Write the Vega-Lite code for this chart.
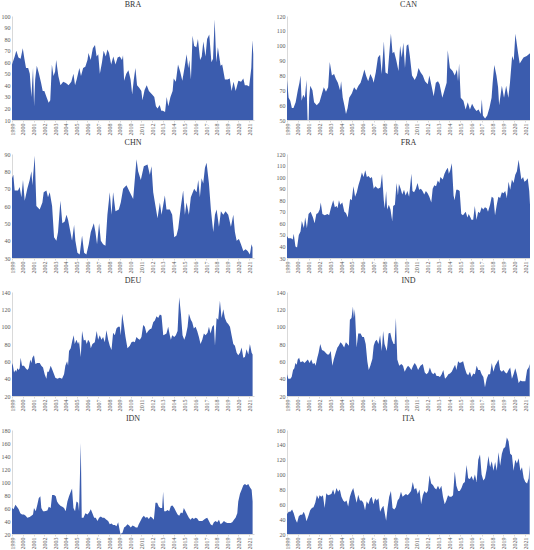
{
  "$schema": "https://vega.github.io/schema/vega-lite/v6.json",
  "background": "white",
  "padding": {"left": 1, "top": 1, "right": 0, "bottom": 0},
  "config": {
    "view": {"stroke": null},
    "title": {"font": "Liberation Serif", "fontSize": 8, "fontWeight": "normal", "color": "#333333", "offset": 4},
    "axis": {"labelFont": "Liberation Serif", "labelFontSize": 6, "labelColor": "#595959", "domainColor": "#d9d9d9", "grid": false, "title": null},
    "axisY": {"ticks": false, "labelPadding": 2},
    "axisX": {"ticks": true, "tickSize": 2, "tickColor": "#d9d9d9", "labelAngle": -90, "labelPadding": 1, "format": "d", "labelOverlap": false}
  },
  "datasets": {
    "BRA": [{"t":1999.0,"v":58},{"t":1999.25,"v":65},{"t":1999.4,"v":70},{"t":1999.6,"v":64},{"t":1999.8,"v":63},{"t":2000.0,"v":72},{"t":2000.15,"v":63},{"t":2000.3,"v":55},{"t":2000.5,"v":55},{"t":2000.65,"v":50},{"t":2000.8,"v":30},{"t":2000.95,"v":55},{"t":2001.05,"v":22},{"t":2001.15,"v":45},{"t":2001.3,"v":57},{"t":2001.5,"v":50},{"t":2001.7,"v":42},{"t":2001.85,"v":35},{"t":2002.0,"v":35},{"t":2002.2,"v":30},{"t":2002.4,"v":25},{"t":2002.55,"v":27},{"t":2002.7,"v":58},{"t":2002.85,"v":48},{"t":2003.0,"v":52},{"t":2003.1,"v":62},{"t":2003.3,"v":48},{"t":2003.5,"v":40},{"t":2003.75,"v":43},{"t":2004.0,"v":42},{"t":2004.25,"v":40},{"t":2004.5,"v":43},{"t":2004.7,"v":50},{"t":2004.85,"v":40},{"t":2005.0,"v":45},{"t":2005.25,"v":55},{"t":2005.4,"v":48},{"t":2005.6,"v":55},{"t":2005.8,"v":56},{"t":2006.0,"v":62},{"t":2006.1,"v":68},{"t":2006.3,"v":62},{"t":2006.5,"v":72},{"t":2006.7,"v":75},{"t":2006.85,"v":65},{"t":2007.0,"v":67},{"t":2007.15,"v":50},{"t":2007.35,"v":60},{"t":2007.5,"v":70},{"t":2007.7,"v":65},{"t":2007.85,"v":71},{"t":2008.0,"v":68},{"t":2008.2,"v":58},{"t":2008.4,"v":65},{"t":2008.6,"v":58},{"t":2008.8,"v":64},{"t":2009.0,"v":65},{"t":2009.2,"v":62},{"t":2009.3,"v":66},{"t":2009.4,"v":44},{"t":2009.6,"v":50},{"t":2009.8,"v":53},{"t":2010.0,"v":45},{"t":2010.15,"v":32},{"t":2010.3,"v":45},{"t":2010.45,"v":55},{"t":2010.6,"v":40},{"t":2010.8,"v":38},{"t":2011.0,"v":35},{"t":2011.1,"v":27},{"t":2011.3,"v":36},{"t":2011.5,"v":40},{"t":2011.7,"v":35},{"t":2012.0,"v":32},{"t":2012.2,"v":30},{"t":2012.35,"v":22},{"t":2012.5,"v":20},{"t":2012.7,"v":23},{"t":2012.85,"v":18},{"t":2013.0,"v":18},{"t":2013.2,"v":17},{"t":2013.35,"v":30},{"t":2013.5,"v":22},{"t":2013.7,"v":30},{"t":2013.9,"v":35},{"t":2014.0,"v":46},{"t":2014.2,"v":43},{"t":2014.4,"v":58},{"t":2014.6,"v":52},{"t":2014.8,"v":44},{"t":2015.0,"v":55},{"t":2015.2,"v":67},{"t":2015.35,"v":55},{"t":2015.45,"v":62},{"t":2015.6,"v":45},{"t":2015.75,"v":83},{"t":2015.9,"v":74},{"t":2016.1,"v":73},{"t":2016.25,"v":80},{"t":2016.45,"v":62},{"t":2016.6,"v":65},{"t":2016.75,"v":78},{"t":2016.95,"v":65},{"t":2017.1,"v":80},{"t":2017.3,"v":84},{"t":2017.5,"v":60},{"t":2017.65,"v":63},{"t":2017.8,"v":97},{"t":2017.95,"v":60},{"t":2018.1,"v":73},{"t":2018.35,"v":57},{"t":2018.5,"v":58},{"t":2018.75,"v":45},{"t":2019.0,"v":45},{"t":2019.2,"v":46},{"t":2019.37,"v":35},{"t":2019.55,"v":43},{"t":2019.75,"v":35},{"t":2020.0,"v":44},{"t":2020.25,"v":43},{"t":2020.46,"v":46},{"t":2020.6,"v":40},{"t":2020.8,"v":40},{"t":2021.0,"v":39},{"t":2021.2,"v":55},{"t":2021.3,"v":79},{"t":2021.38,"v":67}],
    "CAN": [{"t":1999.0,"v":77},{"t":1999.15,"v":65},{"t":1999.3,"v":63},{"t":1999.45,"v":58},{"t":1999.6,"v":58},{"t":1999.8,"v":62},{"t":2000.0,"v":70},{"t":2000.15,"v":75},{"t":2000.25,"v":80},{"t":2000.35,"v":63},{"t":2000.5,"v":67},{"t":2000.65,"v":65},{"t":2000.8,"v":77},{"t":2000.9,"v":50},{"t":2001.0,"v":50},{"t":2001.05,"v":65},{"t":2001.15,"v":73},{"t":2001.35,"v":70},{"t":2001.5,"v":62},{"t":2001.75,"v":60},{"t":2002.0,"v":62},{"t":2002.2,"v":67},{"t":2002.4,"v":72},{"t":2002.6,"v":69},{"t":2002.8,"v":72},{"t":2002.95,"v":89},{"t":2003.15,"v":80},{"t":2003.35,"v":81},{"t":2003.5,"v":78},{"t":2003.7,"v":75},{"t":2003.9,"v":70},{"t":2004.0,"v":76},{"t":2004.15,"v":65},{"t":2004.3,"v":60},{"t":2004.45,"v":54},{"t":2004.6,"v":58},{"t":2004.75,"v":65},{"t":2005.0,"v":68},{"t":2005.2,"v":72},{"t":2005.4,"v":70},{"t":2005.6,"v":73},{"t":2005.8,"v":75},{"t":2006.0,"v":80},{"t":2006.15,"v":84},{"t":2006.3,"v":80},{"t":2006.5,"v":76},{"t":2006.7,"v":81},{"t":2006.9,"v":78},{"t":2007.0,"v":75},{"t":2007.2,"v":82},{"t":2007.4,"v":92},{"t":2007.6,"v":94},{"t":2007.75,"v":81},{"t":2007.95,"v":103},{"t":2008.1,"v":82},{"t":2008.3,"v":81},{"t":2008.45,"v":95},{"t":2008.6,"v":108},{"t":2008.75,"v":95},{"t":2008.9,"v":96},{"t":2009.1,"v":90},{"t":2009.3,"v":83},{"t":2009.45,"v":100},{"t":2009.6,"v":92},{"t":2009.75,"v":102},{"t":2009.9,"v":85},{"t":2010.05,"v":100},{"t":2010.2,"v":101},{"t":2010.35,"v":93},{"t":2010.55,"v":80},{"t":2010.8,"v":77},{"t":2011.0,"v":80},{"t":2011.15,"v":85},{"t":2011.35,"v":82},{"t":2011.55,"v":80},{"t":2011.75,"v":76},{"t":2012.0,"v":74},{"t":2012.15,"v":80},{"t":2012.35,"v":73},{"t":2012.55,"v":66},{"t":2012.75,"v":75},{"t":2012.95,"v":76},{"t":2013.1,"v":74},{"t":2013.35,"v":65},{"t":2013.55,"v":70},{"t":2013.75,"v":75},{"t":2013.85,"v":97},{"t":2014.05,"v":85},{"t":2014.3,"v":83},{"t":2014.5,"v":80},{"t":2014.7,"v":84},{"t":2014.8,"v":76},{"t":2014.9,"v":88},{"t":2015.05,"v":65},{"t":2015.3,"v":63},{"t":2015.5,"v":57},{"t":2015.7,"v":62},{"t":2015.9,"v":57},{"t":2016.1,"v":61},{"t":2016.3,"v":58},{"t":2016.5,"v":56},{"t":2016.7,"v":57},{"t":2016.9,"v":54},{"t":2017.0,"v":64},{"t":2017.1,"v":53},{"t":2017.3,"v":51},{"t":2017.5,"v":53},{"t":2017.7,"v":58},{"t":2017.9,"v":65},{"t":2018.0,"v":75},{"t":2018.15,"v":87},{"t":2018.35,"v":80},{"t":2018.5,"v":72},{"t":2018.6,"v":60},{"t":2018.85,"v":73},{"t":2019.05,"v":65},{"t":2019.25,"v":73},{"t":2019.45,"v":65},{"t":2019.6,"v":75},{"t":2019.8,"v":93},{"t":2019.95,"v":90},{"t":2020.1,"v":108},{"t":2020.35,"v":95},{"t":2020.5,"v":88},{"t":2020.85,"v":92},{"t":2021.15,"v":93},{"t":2021.45,"v":95}],
    "CHN": [{"t":1999.0,"v":76},{"t":1999.12,"v":78},{"t":1999.25,"v":69},{"t":1999.56,"v":69},{"t":1999.71,"v":71},{"t":1999.87,"v":65},{"t":2000.02,"v":75},{"t":2000.18,"v":63},{"t":2000.42,"v":70},{"t":2000.64,"v":75},{"t":2000.8,"v":80},{"t":2000.89,"v":72},{"t":2001.11,"v":89},{"t":2001.26,"v":60},{"t":2001.57,"v":58},{"t":2001.82,"v":62},{"t":2001.94,"v":68},{"t":2002.19,"v":69},{"t":2002.34,"v":65},{"t":2002.5,"v":68},{"t":2002.72,"v":60},{"t":2002.9,"v":42},{"t":2003.12,"v":40},{"t":2003.27,"v":45},{"t":2003.49,"v":63},{"t":2003.67,"v":50},{"t":2003.89,"v":51},{"t":2004.05,"v":55},{"t":2004.2,"v":52},{"t":2004.42,"v":45},{"t":2004.57,"v":40},{"t":2004.76,"v":49},{"t":2004.88,"v":40},{"t":2005.07,"v":33},{"t":2005.28,"v":32},{"t":2005.5,"v":43},{"t":2005.69,"v":33},{"t":2005.9,"v":32},{"t":2006.12,"v":38},{"t":2006.31,"v":45},{"t":2006.59,"v":50},{"t":2006.74,"v":45},{"t":2006.89,"v":38},{"t":2007.08,"v":50},{"t":2007.24,"v":40},{"t":2007.45,"v":38},{"t":2007.67,"v":37},{"t":2007.85,"v":55},{"t":2008.07,"v":68},{"t":2008.23,"v":55},{"t":2008.38,"v":68},{"t":2008.6,"v":57},{"t":2008.91,"v":58},{"t":2009.09,"v":62},{"t":2009.31,"v":70},{"t":2009.62,"v":72},{"t":2009.93,"v":68},{"t":2010.24,"v":64},{"t":2010.55,"v":87},{"t":2010.7,"v":80},{"t":2010.95,"v":75},{"t":2011.23,"v":83},{"t":2011.57,"v":84},{"t":2011.79,"v":78},{"t":2011.94,"v":83},{"t":2012.1,"v":68},{"t":2012.31,"v":60},{"t":2012.5,"v":53},{"t":2012.72,"v":62},{"t":2012.87,"v":55},{"t":2013.18,"v":66},{"t":2013.33,"v":58},{"t":2013.64,"v":58},{"t":2013.86,"v":55},{"t":2014.05,"v":42},{"t":2014.26,"v":43},{"t":2014.42,"v":47},{"t":2014.67,"v":60},{"t":2014.88,"v":69},{"t":2015.04,"v":55},{"t":2015.19,"v":62},{"t":2015.41,"v":55},{"t":2015.59,"v":65},{"t":2015.9,"v":70},{"t":2016.12,"v":68},{"t":2016.28,"v":75},{"t":2016.43,"v":65},{"t":2016.59,"v":76},{"t":2016.74,"v":73},{"t":2016.9,"v":82},{"t":2017.05,"v":85},{"t":2017.27,"v":73},{"t":2017.45,"v":58},{"t":2017.67,"v":45},{"t":2017.83,"v":55},{"t":2017.98,"v":58},{"t":2018.2,"v":48},{"t":2018.38,"v":57},{"t":2018.6,"v":55},{"t":2018.81,"v":57},{"t":2019.06,"v":55},{"t":2019.31,"v":48},{"t":2019.53,"v":55},{"t":2019.68,"v":45},{"t":2019.84,"v":40},{"t":2020.05,"v":41},{"t":2020.24,"v":38},{"t":2020.46,"v":34},{"t":2020.67,"v":35},{"t":2020.86,"v":34},{"t":2021.07,"v":32},{"t":2021.22,"v":38},{"t":2021.31,"v":36}],
    "FRA": [{"t":1999.0,"v":49},{"t":1999.12,"v":47},{"t":1999.37,"v":47},{"t":1999.53,"v":46},{"t":1999.62,"v":51},{"t":1999.78,"v":40},{"t":1999.93,"v":39},{"t":2000.09,"v":50},{"t":2000.25,"v":53},{"t":2000.37,"v":62},{"t":2000.56,"v":56},{"t":2000.68,"v":65},{"t":2000.84,"v":56},{"t":2000.99,"v":68},{"t":2001.18,"v":70},{"t":2001.4,"v":65},{"t":2001.55,"v":60},{"t":2001.71,"v":68},{"t":2001.87,"v":69},{"t":2002.02,"v":72},{"t":2002.12,"v":78},{"t":2002.27,"v":68},{"t":2002.49,"v":67},{"t":2002.74,"v":68},{"t":2002.89,"v":67},{"t":2003.05,"v":73},{"t":2003.27,"v":80},{"t":2003.42,"v":74},{"t":2003.58,"v":75},{"t":2003.67,"v":73},{"t":2003.8,"v":80},{"t":2003.92,"v":76},{"t":2004.11,"v":78},{"t":2004.3,"v":70},{"t":2004.45,"v":69},{"t":2004.61,"v":65},{"t":2004.83,"v":81},{"t":2004.98,"v":80},{"t":2005.14,"v":92},{"t":2005.29,"v":83},{"t":2005.45,"v":87},{"t":2005.6,"v":93},{"t":2005.76,"v":98},{"t":2005.92,"v":104},{"t":2006.07,"v":100},{"t":2006.23,"v":106},{"t":2006.38,"v":100},{"t":2006.54,"v":101},{"t":2006.69,"v":99},{"t":2006.85,"v":100},{"t":2007.01,"v":90},{"t":2007.16,"v":92},{"t":2007.41,"v":90},{"t":2007.63,"v":91},{"t":2007.78,"v":103},{"t":2007.94,"v":80},{"t":2008.03,"v":73},{"t":2008.16,"v":88},{"t":2008.25,"v":72},{"t":2008.41,"v":76},{"t":2008.56,"v":72},{"t":2008.72,"v":62},{"t":2008.81,"v":75},{"t":2008.97,"v":76},{"t":2009.12,"v":95},{"t":2009.25,"v":84},{"t":2009.34,"v":94},{"t":2009.5,"v":90},{"t":2009.65,"v":85},{"t":2009.81,"v":89},{"t":2009.96,"v":84},{"t":2010.12,"v":88},{"t":2010.28,"v":83},{"t":2010.49,"v":103},{"t":2010.59,"v":88},{"t":2010.74,"v":87},{"t":2010.9,"v":90},{"t":2011.06,"v":95},{"t":2011.21,"v":89},{"t":2011.37,"v":90},{"t":2011.52,"v":88},{"t":2011.68,"v":85},{"t":2011.83,"v":88},{"t":2011.99,"v":86},{"t":2012.15,"v":83},{"t":2012.33,"v":78},{"t":2012.46,"v":90},{"t":2012.61,"v":93},{"t":2012.77,"v":92},{"t":2012.93,"v":97},{"t":2013.08,"v":95},{"t":2013.17,"v":100},{"t":2013.39,"v":98},{"t":2013.55,"v":103},{"t":2013.7,"v":106},{"t":2013.86,"v":108},{"t":2013.95,"v":103},{"t":2014.08,"v":106},{"t":2014.23,"v":112},{"t":2014.39,"v":84},{"t":2014.48,"v":80},{"t":2014.64,"v":89},{"t":2014.79,"v":89},{"t":2014.95,"v":88},{"t":2015.1,"v":68},{"t":2015.26,"v":67},{"t":2015.51,"v":70},{"t":2015.67,"v":65},{"t":2015.79,"v":68},{"t":2015.95,"v":65},{"t":2016.04,"v":63},{"t":2016.2,"v":63},{"t":2016.35,"v":75},{"t":2016.51,"v":63},{"t":2016.66,"v":70},{"t":2016.82,"v":69},{"t":2016.98,"v":74},{"t":2017.13,"v":72},{"t":2017.29,"v":74},{"t":2017.45,"v":73},{"t":2017.57,"v":70},{"t":2017.76,"v":76},{"t":2017.91,"v":83},{"t":2018.07,"v":82},{"t":2018.22,"v":67},{"t":2018.38,"v":76},{"t":2018.53,"v":83},{"t":2018.69,"v":82},{"t":2018.85,"v":87},{"t":2019.0,"v":86},{"t":2019.16,"v":88},{"t":2019.31,"v":82},{"t":2019.47,"v":96},{"t":2019.62,"v":89},{"t":2019.78,"v":98},{"t":2019.93,"v":95},{"t":2020.09,"v":102},{"t":2020.24,"v":105},{"t":2020.4,"v":115},{"t":2020.56,"v":104},{"t":2020.65,"v":98},{"t":2020.81,"v":100},{"t":2020.93,"v":96},{"t":2021.09,"v":97},{"t":2021.24,"v":99},{"t":2021.38,"v":88},{"t":2021.45,"v":76}],
    "DEU": [{"t":1999.0,"v":58},{"t":1999.09,"v":55},{"t":1999.19,"v":47},{"t":1999.31,"v":50},{"t":1999.4,"v":48},{"t":1999.5,"v":52},{"t":1999.62,"v":50},{"t":1999.71,"v":52},{"t":1999.8,"v":64},{"t":1999.93,"v":55},{"t":2000.11,"v":55},{"t":2000.27,"v":52},{"t":2000.42,"v":50},{"t":2000.55,"v":52},{"t":2000.7,"v":62},{"t":2000.8,"v":58},{"t":2000.89,"v":64},{"t":2001.04,"v":67},{"t":2001.17,"v":57},{"t":2001.35,"v":58},{"t":2001.57,"v":58},{"t":2001.72,"v":55},{"t":2001.88,"v":53},{"t":2002.03,"v":45},{"t":2002.19,"v":40},{"t":2002.28,"v":48},{"t":2002.41,"v":48},{"t":2002.59,"v":55},{"t":2002.75,"v":50},{"t":2002.9,"v":45},{"t":2003.02,"v":41},{"t":2003.21,"v":40},{"t":2003.43,"v":41},{"t":2003.64,"v":40},{"t":2003.83,"v":45},{"t":2003.95,"v":55},{"t":2004.11,"v":60},{"t":2004.2,"v":55},{"t":2004.29,"v":72},{"t":2004.45,"v":75},{"t":2004.6,"v":84},{"t":2004.73,"v":90},{"t":2004.82,"v":80},{"t":2004.98,"v":85},{"t":2005.13,"v":80},{"t":2005.22,"v":83},{"t":2005.38,"v":65},{"t":2005.5,"v":95},{"t":2005.66,"v":84},{"t":2005.81,"v":85},{"t":2005.94,"v":80},{"t":2006.06,"v":85},{"t":2006.21,"v":82},{"t":2006.31,"v":75},{"t":2006.46,"v":80},{"t":2006.68,"v":82},{"t":2006.86,"v":95},{"t":2006.99,"v":85},{"t":2007.14,"v":90},{"t":2007.3,"v":85},{"t":2007.45,"v":88},{"t":2007.61,"v":82},{"t":2007.76,"v":96},{"t":2007.92,"v":85},{"t":2008.07,"v":78},{"t":2008.23,"v":73},{"t":2008.38,"v":93},{"t":2008.54,"v":90},{"t":2008.69,"v":98},{"t":2008.85,"v":100},{"t":2009.0,"v":100},{"t":2009.09,"v":90},{"t":2009.22,"v":115},{"t":2009.4,"v":100},{"t":2009.53,"v":88},{"t":2009.71,"v":75},{"t":2009.93,"v":78},{"t":2010.08,"v":82},{"t":2010.24,"v":83},{"t":2010.39,"v":82},{"t":2010.55,"v":88},{"t":2010.7,"v":86},{"t":2010.86,"v":85},{"t":2011.01,"v":88},{"t":2011.17,"v":102},{"t":2011.32,"v":100},{"t":2011.48,"v":92},{"t":2011.63,"v":95},{"t":2011.79,"v":97},{"t":2011.94,"v":98},{"t":2012.1,"v":105},{"t":2012.25,"v":107},{"t":2012.41,"v":112},{"t":2012.56,"v":110},{"t":2012.72,"v":114},{"t":2012.87,"v":113},{"t":2013.03,"v":90},{"t":2013.18,"v":91},{"t":2013.33,"v":92},{"t":2013.49,"v":100},{"t":2013.64,"v":90},{"t":2013.74,"v":85},{"t":2013.86,"v":90},{"t":2014.05,"v":88},{"t":2014.2,"v":90},{"t":2014.36,"v":95},{"t":2014.51,"v":134},{"t":2014.67,"v":115},{"t":2014.82,"v":90},{"t":2014.98,"v":85},{"t":2015.13,"v":90},{"t":2015.29,"v":100},{"t":2015.41,"v":115},{"t":2015.59,"v":108},{"t":2015.72,"v":105},{"t":2015.87,"v":98},{"t":2016.03,"v":100},{"t":2016.18,"v":95},{"t":2016.34,"v":88},{"t":2016.49,"v":80},{"t":2016.65,"v":85},{"t":2016.8,"v":92},{"t":2016.96,"v":90},{"t":2017.14,"v":93},{"t":2017.27,"v":100},{"t":2017.42,"v":92},{"t":2017.58,"v":100},{"t":2017.73,"v":102},{"t":2017.83,"v":78},{"t":2017.98,"v":110},{"t":2018.13,"v":108},{"t":2018.29,"v":130},{"t":2018.44,"v":110},{"t":2018.6,"v":120},{"t":2018.75,"v":110},{"t":2018.91,"v":105},{"t":2019.06,"v":103},{"t":2019.22,"v":100},{"t":2019.37,"v":90},{"t":2019.53,"v":80},{"t":2019.68,"v":78},{"t":2019.84,"v":70},{"t":2019.99,"v":67},{"t":2020.15,"v":70},{"t":2020.3,"v":76},{"t":2020.46,"v":64},{"t":2020.61,"v":65},{"t":2020.76,"v":74},{"t":2020.92,"v":68},{"t":2021.07,"v":80},{"t":2021.23,"v":70},{"t":2021.32,"v":68}],
    "IND": [{"t":1999.0,"v":45},{"t":1999.12,"v":40},{"t":1999.31,"v":40},{"t":1999.43,"v":42},{"t":1999.56,"v":50},{"t":1999.68,"v":52},{"t":1999.78,"v":58},{"t":1999.9,"v":56},{"t":1999.99,"v":62},{"t":2000.12,"v":64},{"t":2000.24,"v":59},{"t":2000.46,"v":60},{"t":2000.62,"v":58},{"t":2000.77,"v":60},{"t":2000.93,"v":62},{"t":2001.08,"v":58},{"t":2001.24,"v":62},{"t":2001.39,"v":57},{"t":2001.55,"v":58},{"t":2001.64,"v":55},{"t":2001.8,"v":64},{"t":2001.92,"v":70},{"t":2002.07,"v":80},{"t":2002.23,"v":73},{"t":2002.42,"v":72},{"t":2002.57,"v":70},{"t":2002.73,"v":68},{"t":2002.88,"v":68},{"t":2003.04,"v":72},{"t":2003.19,"v":55},{"t":2003.32,"v":62},{"t":2003.5,"v":70},{"t":2003.66,"v":76},{"t":2003.78,"v":78},{"t":2003.94,"v":82},{"t":2004.09,"v":80},{"t":2004.28,"v":76},{"t":2004.44,"v":82},{"t":2004.59,"v":80},{"t":2004.72,"v":78},{"t":2004.81,"v":108},{"t":2004.96,"v":110},{"t":2005.09,"v":123},{"t":2005.18,"v":110},{"t":2005.27,"v":120},{"t":2005.43,"v":76},{"t":2005.58,"v":92},{"t":2005.8,"v":92},{"t":2005.96,"v":88},{"t":2006.11,"v":88},{"t":2006.27,"v":80},{"t":2006.42,"v":60},{"t":2006.55,"v":50},{"t":2006.7,"v":55},{"t":2006.89,"v":63},{"t":2007.01,"v":78},{"t":2007.14,"v":83},{"t":2007.29,"v":85},{"t":2007.45,"v":80},{"t":2007.6,"v":90},{"t":2007.76,"v":72},{"t":2007.88,"v":95},{"t":2008.01,"v":80},{"t":2008.22,"v":72},{"t":2008.38,"v":92},{"t":2008.54,"v":93},{"t":2008.69,"v":85},{"t":2008.85,"v":80},{"t":2008.94,"v":80},{"t":2009.06,"v":110},{"t":2009.19,"v":62},{"t":2009.37,"v":55},{"t":2009.56,"v":57},{"t":2009.72,"v":55},{"t":2009.87,"v":48},{"t":2010.03,"v":52},{"t":2010.18,"v":55},{"t":2010.34,"v":53},{"t":2010.49,"v":50},{"t":2010.65,"v":55},{"t":2010.8,"v":58},{"t":2010.96,"v":55},{"t":2011.11,"v":50},{"t":2011.33,"v":55},{"t":2011.55,"v":57},{"t":2011.73,"v":47},{"t":2011.89,"v":45},{"t":2012.05,"v":47},{"t":2012.2,"v":53},{"t":2012.36,"v":47},{"t":2012.51,"v":45},{"t":2012.67,"v":47},{"t":2012.82,"v":43},{"t":2012.98,"v":43},{"t":2013.13,"v":42},{"t":2013.29,"v":45},{"t":2013.44,"v":50},{"t":2013.6,"v":40},{"t":2013.75,"v":42},{"t":2013.91,"v":45},{"t":2014.06,"v":46},{"t":2014.22,"v":48},{"t":2014.37,"v":52},{"t":2014.53,"v":56},{"t":2014.65,"v":50},{"t":2014.81,"v":60},{"t":2014.96,"v":58},{"t":2015.12,"v":59},{"t":2015.27,"v":60},{"t":2015.43,"v":52},{"t":2015.59,"v":46},{"t":2015.74,"v":44},{"t":2015.9,"v":48},{"t":2016.05,"v":42},{"t":2016.21,"v":46},{"t":2016.36,"v":45},{"t":2016.52,"v":55},{"t":2016.67,"v":50},{"t":2016.83,"v":50},{"t":2016.98,"v":45},{"t":2017.14,"v":42},{"t":2017.29,"v":30},{"t":2017.45,"v":40},{"t":2017.61,"v":45},{"t":2017.76,"v":45},{"t":2017.92,"v":58},{"t":2018.07,"v":48},{"t":2018.23,"v":55},{"t":2018.38,"v":58},{"t":2018.54,"v":62},{"t":2018.69,"v":50},{"t":2018.85,"v":48},{"t":2019.0,"v":50},{"t":2019.16,"v":47},{"t":2019.31,"v":46},{"t":2019.47,"v":50},{"t":2019.62,"v":53},{"t":2019.78,"v":40},{"t":2019.93,"v":45},{"t":2020.09,"v":52},{"t":2020.24,"v":45},{"t":2020.4,"v":35},{"t":2020.56,"v":38},{"t":2020.71,"v":37},{"t":2020.87,"v":37},{"t":2021.02,"v":37},{"t":2021.18,"v":50},{"t":2021.33,"v":53},{"t":2021.42,"v":57}],
    "IDN": [{"t":1999.0,"v":60},{"t":1999.15,"v":58},{"t":1999.31,"v":65},{"t":1999.46,"v":62},{"t":1999.62,"v":58},{"t":1999.77,"v":52},{"t":1999.93,"v":50},{"t":2000.11,"v":50},{"t":2000.27,"v":48},{"t":2000.42,"v":45},{"t":2000.64,"v":46},{"t":2000.8,"v":48},{"t":2000.95,"v":50},{"t":2001.04,"v":60},{"t":2001.2,"v":55},{"t":2001.35,"v":65},{"t":2001.48,"v":75},{"t":2001.63,"v":78},{"t":2001.72,"v":60},{"t":2001.88,"v":55},{"t":2002.03,"v":55},{"t":2002.28,"v":56},{"t":2002.41,"v":62},{"t":2002.59,"v":60},{"t":2002.72,"v":80},{"t":2002.9,"v":80},{"t":2003.06,"v":78},{"t":2003.18,"v":70},{"t":2003.33,"v":66},{"t":2003.52,"v":63},{"t":2003.67,"v":62},{"t":2003.83,"v":60},{"t":2003.98,"v":55},{"t":2004.14,"v":70},{"t":2004.29,"v":78},{"t":2004.45,"v":85},{"t":2004.57,"v":90},{"t":2004.7,"v":60},{"t":2004.85,"v":55},{"t":2004.98,"v":70},{"t":2005.13,"v":68},{"t":2005.22,"v":55},{"t":2005.38,"v":160},{"t":2005.47,"v":45},{"t":2005.63,"v":45},{"t":2005.81,"v":52},{"t":2006.0,"v":50},{"t":2006.15,"v":53},{"t":2006.31,"v":58},{"t":2006.46,"v":52},{"t":2006.62,"v":45},{"t":2006.77,"v":45},{"t":2006.93,"v":40},{"t":2007.08,"v":45},{"t":2007.24,"v":47},{"t":2007.39,"v":45},{"t":2007.55,"v":45},{"t":2007.76,"v":42},{"t":2007.92,"v":40},{"t":2008.07,"v":35},{"t":2008.23,"v":36},{"t":2008.38,"v":34},{"t":2008.54,"v":34},{"t":2008.69,"v":32},{"t":2008.85,"v":38},{"t":2008.94,"v":30},{"t":2009.06,"v":20},{"t":2009.25,"v":22},{"t":2009.4,"v":30},{"t":2009.56,"v":32},{"t":2009.71,"v":35},{"t":2009.87,"v":33},{"t":2010.02,"v":30},{"t":2010.18,"v":33},{"t":2010.33,"v":32},{"t":2010.49,"v":30},{"t":2010.64,"v":30},{"t":2010.76,"v":35},{"t":2010.92,"v":40},{"t":2011.07,"v":45},{"t":2011.23,"v":48},{"t":2011.38,"v":45},{"t":2011.54,"v":46},{"t":2011.69,"v":43},{"t":2011.85,"v":47},{"t":2012.0,"v":45},{"t":2012.16,"v":42},{"t":2012.31,"v":68},{"t":2012.47,"v":68},{"t":2012.62,"v":62},{"t":2012.78,"v":60},{"t":2012.93,"v":60},{"t":2013.02,"v":85},{"t":2013.12,"v":55},{"t":2013.27,"v":55},{"t":2013.43,"v":57},{"t":2013.58,"v":55},{"t":2013.74,"v":63},{"t":2013.89,"v":64},{"t":2014.05,"v":60},{"t":2014.2,"v":55},{"t":2014.36,"v":50},{"t":2014.51,"v":48},{"t":2014.67,"v":53},{"t":2014.82,"v":52},{"t":2014.94,"v":60},{"t":2015.1,"v":55},{"t":2015.25,"v":50},{"t":2015.41,"v":45},{"t":2015.56,"v":42},{"t":2015.72,"v":45},{"t":2015.87,"v":43},{"t":2016.03,"v":45},{"t":2016.18,"v":44},{"t":2016.34,"v":40},{"t":2016.49,"v":40},{"t":2016.65,"v":40},{"t":2016.8,"v":42},{"t":2016.96,"v":44},{"t":2017.11,"v":45},{"t":2017.27,"v":40},{"t":2017.42,"v":35},{"t":2017.58,"v":33},{"t":2017.73,"v":38},{"t":2017.89,"v":40},{"t":2018.04,"v":38},{"t":2018.2,"v":42},{"t":2018.35,"v":35},{"t":2018.5,"v":37},{"t":2018.66,"v":40},{"t":2018.81,"v":38},{"t":2018.97,"v":37},{"t":2019.12,"v":37},{"t":2019.28,"v":37},{"t":2019.43,"v":38},{"t":2019.59,"v":42},{"t":2019.74,"v":45},{"t":2019.9,"v":52},{"t":2019.99,"v":70},{"t":2020.15,"v":82},{"t":2020.3,"v":88},{"t":2020.46,"v":95},{"t":2020.61,"v":97},{"t":2020.76,"v":95},{"t":2020.92,"v":97},{"t":2021.07,"v":92},{"t":2021.23,"v":88},{"t":2021.32,"v":70}],
    "ITA": [{"t":1999.0,"v":47},{"t":1999.16,"v":50},{"t":1999.31,"v":50},{"t":1999.47,"v":53},{"t":1999.62,"v":48},{"t":1999.78,"v":40},{"t":1999.93,"v":35},{"t":2000.09,"v":44},{"t":2000.24,"v":46},{"t":2000.4,"v":46},{"t":2000.55,"v":50},{"t":2000.68,"v":45},{"t":2000.8,"v":37},{"t":2000.99,"v":45},{"t":2001.14,"v":52},{"t":2001.3,"v":55},{"t":2001.45,"v":56},{"t":2001.61,"v":62},{"t":2001.76,"v":72},{"t":2001.92,"v":67},{"t":2002.01,"v":72},{"t":2002.17,"v":70},{"t":2002.32,"v":72},{"t":2002.48,"v":55},{"t":2002.63,"v":75},{"t":2002.79,"v":72},{"t":2002.94,"v":73},{"t":2003.1,"v":74},{"t":2003.26,"v":80},{"t":2003.41,"v":73},{"t":2003.57,"v":82},{"t":2003.72,"v":77},{"t":2003.88,"v":80},{"t":2004.03,"v":70},{"t":2004.19,"v":65},{"t":2004.34,"v":63},{"t":2004.5,"v":65},{"t":2004.65,"v":57},{"t":2004.81,"v":70},{"t":2004.96,"v":77},{"t":2005.12,"v":82},{"t":2005.27,"v":72},{"t":2005.43,"v":62},{"t":2005.58,"v":73},{"t":2005.74,"v":65},{"t":2005.9,"v":65},{"t":2006.05,"v":62},{"t":2006.21,"v":52},{"t":2006.36,"v":64},{"t":2006.52,"v":60},{"t":2006.67,"v":67},{"t":2006.83,"v":70},{"t":2006.98,"v":60},{"t":2007.14,"v":68},{"t":2007.29,"v":65},{"t":2007.45,"v":68},{"t":2007.6,"v":50},{"t":2007.76,"v":55},{"t":2007.91,"v":58},{"t":2008.07,"v":45},{"t":2008.16,"v":38},{"t":2008.29,"v":55},{"t":2008.44,"v":70},{"t":2008.6,"v":78},{"t":2008.75,"v":55},{"t":2008.91,"v":53},{"t":2009.06,"v":56},{"t":2009.22,"v":65},{"t":2009.37,"v":68},{"t":2009.53,"v":77},{"t":2009.68,"v":70},{"t":2009.84,"v":72},{"t":2009.99,"v":74},{"t":2010.15,"v":72},{"t":2010.31,"v":75},{"t":2010.46,"v":78},{"t":2010.62,"v":90},{"t":2010.77,"v":80},{"t":2010.93,"v":82},{"t":2011.08,"v":74},{"t":2011.24,"v":80},{"t":2011.39,"v":60},{"t":2011.55,"v":72},{"t":2011.7,"v":78},{"t":2011.86,"v":75},{"t":2012.01,"v":78},{"t":2012.17,"v":99},{"t":2012.32,"v":88},{"t":2012.48,"v":86},{"t":2012.64,"v":82},{"t":2012.79,"v":80},{"t":2012.95,"v":85},{"t":2013.1,"v":80},{"t":2013.26,"v":85},{"t":2013.41,"v":70},{"t":2013.57,"v":60},{"t":2013.72,"v":65},{"t":2013.88,"v":72},{"t":2014.03,"v":70},{"t":2014.19,"v":70},{"t":2014.34,"v":72},{"t":2014.5,"v":104},{"t":2014.65,"v":85},{"t":2014.81,"v":78},{"t":2014.96,"v":78},{"t":2015.12,"v":82},{"t":2015.27,"v":88},{"t":2015.43,"v":90},{"t":2015.59,"v":113},{"t":2015.74,"v":95},{"t":2015.9,"v":94},{"t":2016.05,"v":98},{"t":2016.21,"v":92},{"t":2016.36,"v":100},{"t":2016.52,"v":90},{"t":2016.67,"v":120},{"t":2016.83,"v":127},{"t":2016.98,"v":100},{"t":2017.14,"v":92},{"t":2017.29,"v":95},{"t":2017.45,"v":107},{"t":2017.61,"v":125},{"t":2017.76,"v":110},{"t":2017.92,"v":118},{"t":2018.07,"v":105},{"t":2018.23,"v":117},{"t":2018.38,"v":105},{"t":2018.54,"v":130},{"t":2018.69,"v":112},{"t":2018.85,"v":128},{"t":2019.0,"v":135},{"t":2019.16,"v":137},{"t":2019.31,"v":150},{"t":2019.47,"v":145},{"t":2019.62,"v":128},{"t":2019.78,"v":126},{"t":2019.93,"v":105},{"t":2020.09,"v":120},{"t":2020.24,"v":115},{"t":2020.4,"v":122},{"t":2020.56,"v":105},{"t":2020.71,"v":110},{"t":2020.87,"v":95},{"t":2021.02,"v":90},{"t":2021.18,"v":88},{"t":2021.33,"v":95},{"t":2021.42,"v":113}]
  },
  "columns": 2,
  "spacing": {"row": 4, "column": 22},
  "concat": [
    {"title": "BRA", "width": 242, "height": 104, "data": {"name": "BRA"}, "mark": {"type": "area", "color": "#3b5cae", "clip": true},
     "encoding": {"x": {"field": "t", "type": "quantitative", "scale": {"domain": [1999, 2021.45], "nice": false, "zero": false}, "axis": {"values": [1999,2000,2001,2002,2003,2004,2005,2006,2007,2008,2009,2010,2011,2012,2013,2014,2015,2016,2017,2018,2019,2020,2021]}},
                  "y": {"field": "v", "type": "quantitative", "scale": {"domain": [10, 100], "nice": false, "zero": false}, "axis": {"values": [10,20,30,40,50,60,70,80,90,100]}}}},
    {"title": "CAN", "width": 243, "height": 104, "data": {"name": "CAN"}, "mark": {"type": "area", "color": "#3b5cae", "clip": true},
     "encoding": {"x": {"field": "t", "type": "quantitative", "scale": {"domain": [1999, 2021.45], "nice": false, "zero": false}, "axis": {"values": [1999,2000,2001,2002,2003,2004,2005,2006,2007,2008,2009,2010,2011,2012,2013,2014,2015,2016,2017,2018,2019,2020,2021]}},
                  "y": {"field": "v", "type": "quantitative", "scale": {"domain": [50, 120], "nice": false, "zero": false}, "axis": {"values": [50,60,70,80,90,100,110,120]}}}},
    {"title": "CHN", "width": 242, "height": 104, "data": {"name": "CHN"}, "mark": {"type": "area", "color": "#3b5cae", "clip": true},
     "encoding": {"x": {"field": "t", "type": "quantitative", "scale": {"domain": [1999, 2021.45], "nice": false, "zero": false}, "axis": {"values": [1999,2000,2001,2002,2003,2004,2005,2006,2007,2008,2009,2010,2011,2012,2013,2014,2015,2016,2017,2018,2019,2020,2021]}},
                  "y": {"field": "v", "type": "quantitative", "scale": {"domain": [30, 90], "nice": false, "zero": false}, "axis": {"values": [30,40,50,60,70,80,90]}}}},
    {"title": "FRA", "width": 243, "height": 104, "data": {"name": "FRA"}, "mark": {"type": "area", "color": "#3b5cae", "clip": true},
     "encoding": {"x": {"field": "t", "type": "quantitative", "scale": {"domain": [1999, 2021.45], "nice": false, "zero": false}, "axis": {"values": [1999,2000,2001,2002,2003,2004,2005,2006,2007,2008,2009,2010,2011,2012,2013,2014,2015,2016,2017,2018,2019,2020,2021]}},
                  "y": {"field": "v", "type": "quantitative", "scale": {"domain": [30, 120], "nice": false, "zero": false}, "axis": {"values": [30,40,50,60,70,80,90,100,110,120]}}}},
    {"title": "DEU", "width": 242, "height": 104, "data": {"name": "DEU"}, "mark": {"type": "area", "color": "#3b5cae", "clip": true},
     "encoding": {"x": {"field": "t", "type": "quantitative", "scale": {"domain": [1999, 2021.45], "nice": false, "zero": false}, "axis": {"values": [1999,2000,2001,2002,2003,2004,2005,2006,2007,2008,2009,2010,2011,2012,2013,2014,2015,2016,2017,2018,2019,2020,2021]}},
                  "y": {"field": "v", "type": "quantitative", "scale": {"domain": [20, 140], "nice": false, "zero": false}, "axis": {"values": [20,40,60,80,100,120,140]}}}},
    {"title": "IND", "width": 243, "height": 104, "data": {"name": "IND"}, "mark": {"type": "area", "color": "#3b5cae", "clip": true},
     "encoding": {"x": {"field": "t", "type": "quantitative", "scale": {"domain": [1999, 2021.45], "nice": false, "zero": false}, "axis": {"values": [1999,2000,2001,2002,2003,2004,2005,2006,2007,2008,2009,2010,2011,2012,2013,2014,2015,2016,2017,2018,2019,2020,2021]}},
                  "y": {"field": "v", "type": "quantitative", "scale": {"domain": [20, 140], "nice": false, "zero": false}, "axis": {"values": [20,40,60,80,100,120,140]}}}},
    {"title": "IDN", "width": 242, "height": 104, "data": {"name": "IDN"}, "mark": {"type": "area", "color": "#3b5cae", "clip": true},
     "encoding": {"x": {"field": "t", "type": "quantitative", "scale": {"domain": [1999, 2021.45], "nice": false, "zero": false}, "axis": {"values": [1999,2000,2001,2002,2003,2004,2005,2006,2007,2008,2009,2010,2011,2012,2013,2014,2015,2016,2017,2018,2019,2020,2021]}},
                  "y": {"field": "v", "type": "quantitative", "scale": {"domain": [20, 180], "nice": false, "zero": false}, "axis": {"values": [20,40,60,80,100,120,140,160,180]}}}},
    {"title": "ITA", "width": 243, "height": 104, "data": {"name": "ITA"}, "mark": {"type": "area", "color": "#3b5cae", "clip": true},
     "encoding": {"x": {"field": "t", "type": "quantitative", "scale": {"domain": [1999, 2021.45], "nice": false, "zero": false}, "axis": {"values": [1999,2000,2001,2002,2003,2004,2005,2006,2007,2008,2009,2010,2011,2012,2013,2014,2015,2016,2017,2018,2019,2020,2021]}},
                  "y": {"field": "v", "type": "quantitative", "scale": {"domain": [20, 160], "nice": false, "zero": false}, "axis": {"values": [20,40,60,80,100,120,140,160]}}}}
  ]
}
